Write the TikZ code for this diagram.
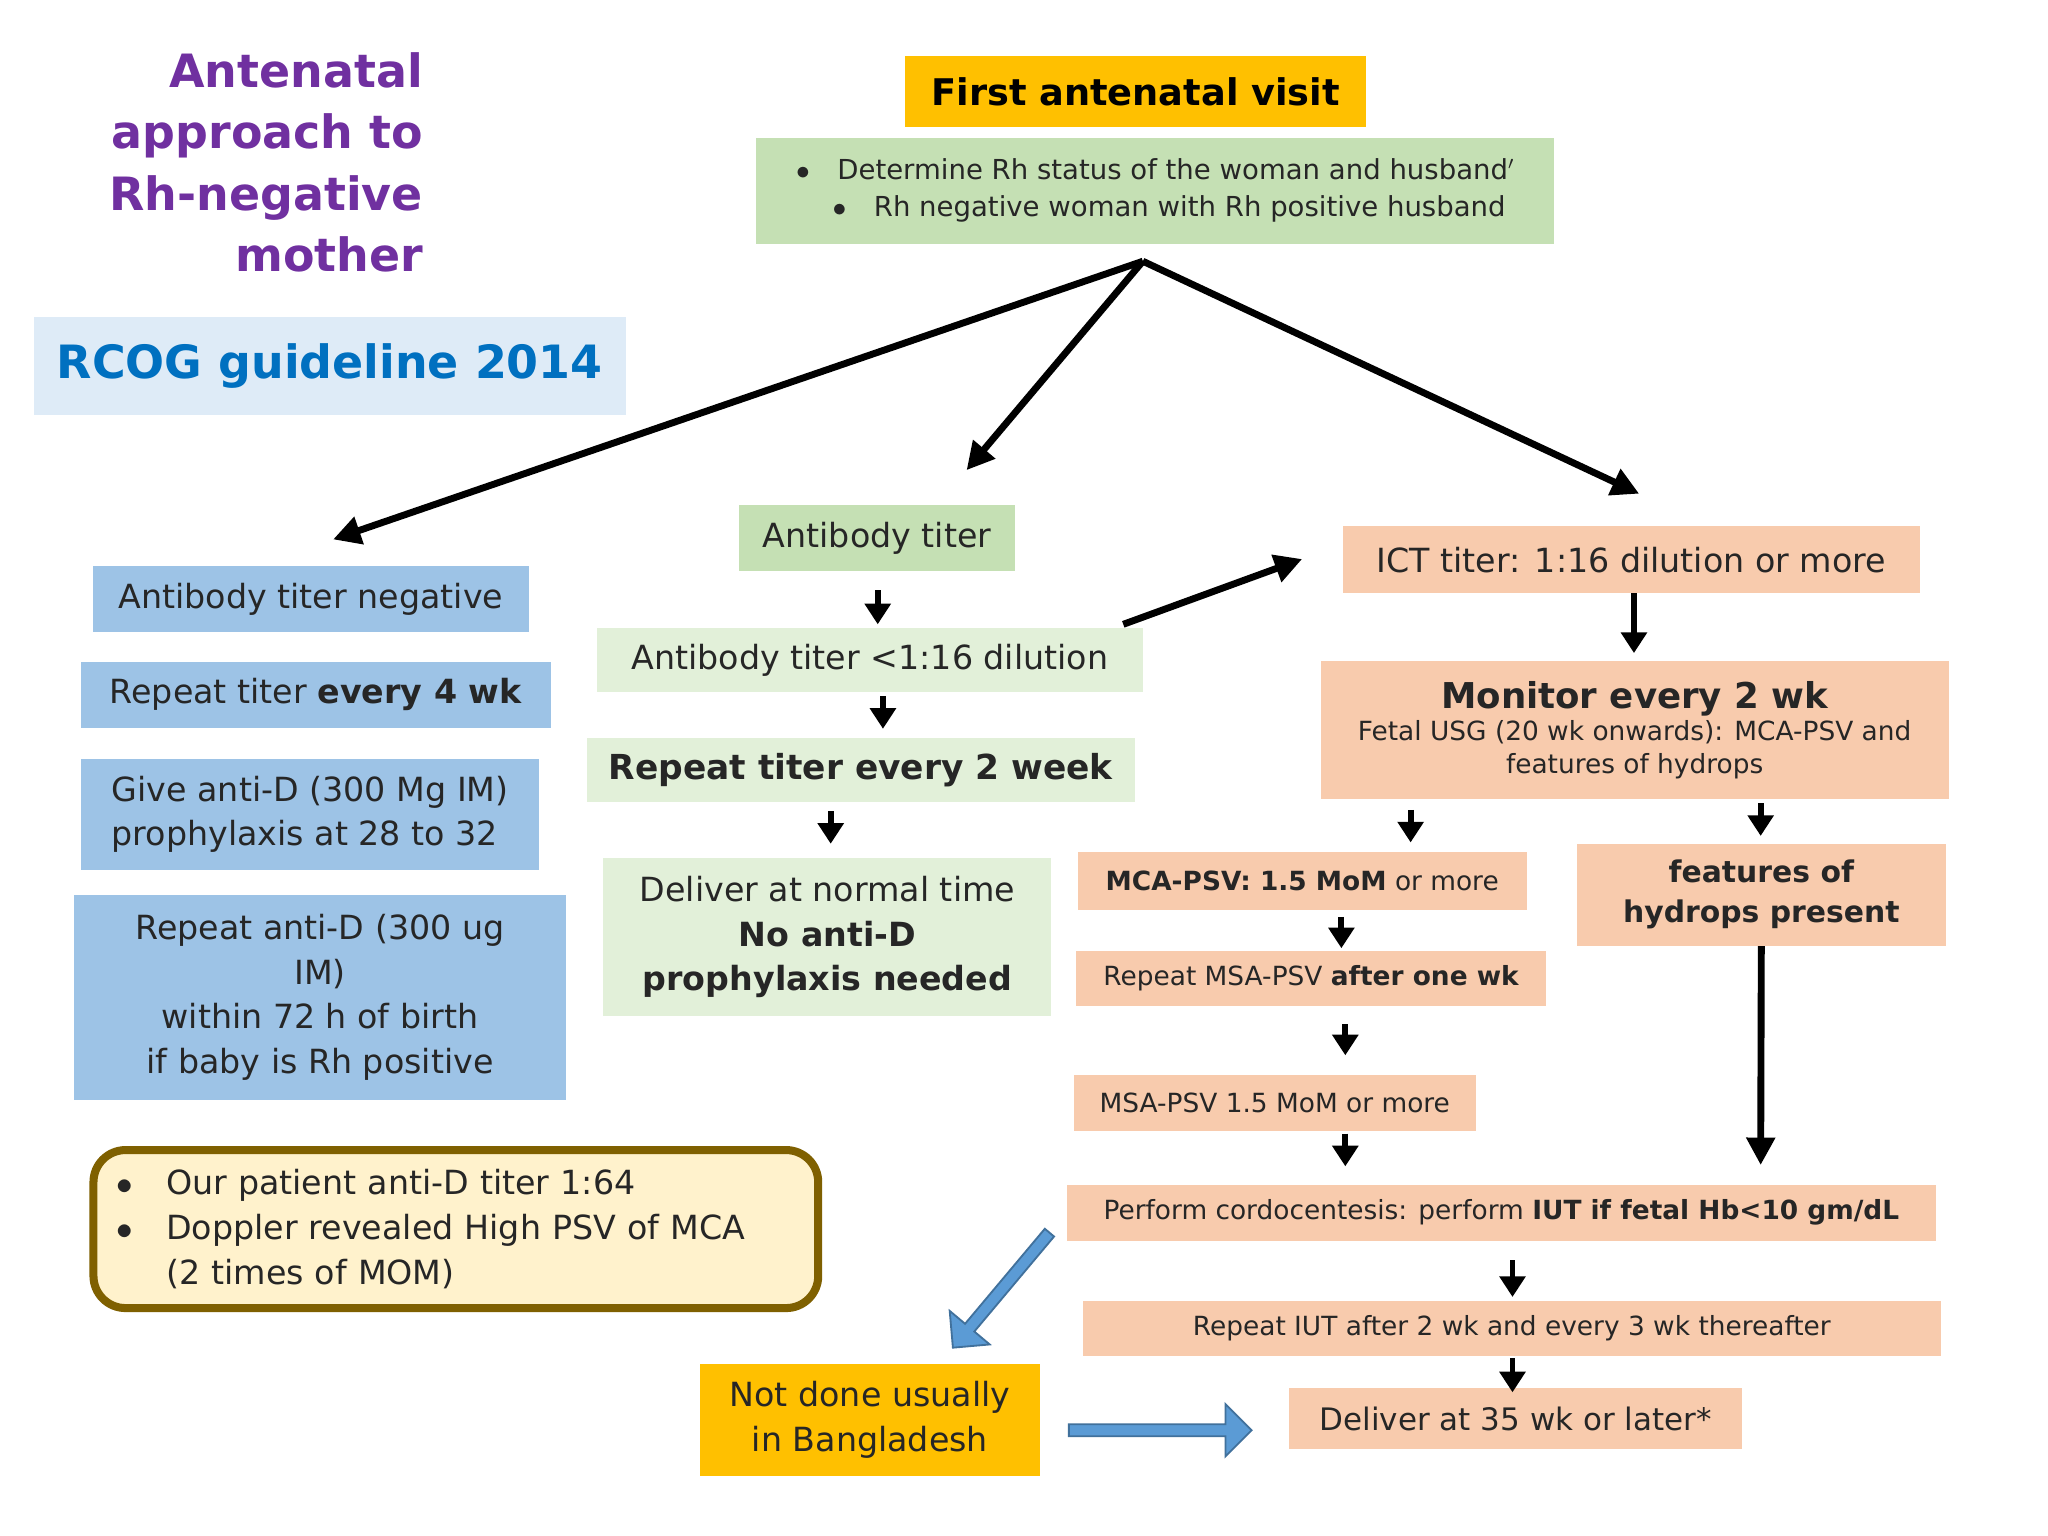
\documentclass[tikz,border=0pt]{standalone}
\usepackage{fontspec}
\setmainfont{DejaVu Sans}
\usetikzlibrary{arrows.meta,shapes.arrows}
\definecolor{purp}{RGB}{112,48,160}
\definecolor{rblue}{RGB}{0,112,192}
\definecolor{lblue}{RGB}{222,235,247}
\definecolor{gold}{RGB}{255,192,0}
\definecolor{grn}{RGB}{197,224,180}
\definecolor{lgrn}{RGB}{226,240,217}
\definecolor{mblue}{RGB}{157,195,230}
\definecolor{orng}{RGB}{248,203,173}
\definecolor{cream}{RGB}{255,242,204}
\definecolor{brn}{RGB}{127,96,0}
\definecolor{barr}{RGB}{91,155,213}
\definecolor{barrd}{RGB}{65,113,156}
\newcommand{\fz}[1]{\fontsize{#1}{1.22\dimexpr#1pt\relax}\selectfont}
\newcommand{\fzl}[1]{\fontsize{#1}{1.34\dimexpr#1pt\relax}\selectfont}
\begin{document}
\begin{tikzpicture}[x=0.02cm,y=-0.02cm,
 box/.style={draw=none,inner sep=2pt,align=center,text=black!85},
 arr/.style={line width=3pt,-{Triangle[length=12pt,width=12pt]}},
 sarr/.style={line width=2.6pt,-{Triangle[length=9pt,width=11pt]}},
 barrow/.style={single arrow,fill=barr,draw=barrd,line width=0.8pt,minimum height=#1,single arrow head extend=8pt,minimum width=0.8cm,inner sep=2pt}]
\useasboundingbox[fill=white] (0,0) rectangle (1568,1176);
\node[align=right,anchor=north east,text=purp,font=\bfseries\fzl{20}] (title) at (330,34) {Antenatal\\approach to\\Rh-negative\\mother};
\node[box,fill=lblue,minimum width=9.06cm,minimum height=1.5cm,text=rblue,font=\bfseries\fz{20}] (rcog) at (252.5,280.5) {RCOG guideline 2014};
\node[box,fill=gold,minimum width=7.06cm,minimum height=1.08cm,text=black,font=\bfseries\fz{16}] (first) at (869.5,70) {First antenatal visit};
\node[box,fill=grn,minimum width=12.22cm,minimum height=1.62cm,font=\fzl{12}] (green) at (884.5,146) {$\bullet$\quad Determine Rh status of the woman and husband$'$\\\quad$\bullet$\quad Rh negative woman with Rh positive husband};
\coordinate (top) at (875,200);
\node[box,fill=mblue,minimum width=6.68cm,minimum height=1.02cm,font=\fz{14.5}] (neg) at (238,458.5) {Antibody titer negative};
\node[box,fill=mblue,minimum width=7.2cm,minimum height=1.0cm,font=\fz{14.5}] (rep4) at (242,532) {Repeat titer \textbf{every 4 wk}};
\node[box,fill=mblue,minimum width=7.02cm,minimum height=1.7cm,font=\fzl{14.5},align=left] (give) at (237.5,623.5) {Give anti-D (300 Mg IM)\\prophylaxis at 28 to 32};
\node[box,fill=mblue,minimum width=7.52cm,minimum height=3.14cm,font=\fzl{14.5}] (repad) at (245,763.5) {Repeat anti-D (300 ug\\IM)\\within 72 h of birth\\if baby is Rh positive};
\node[box,fill=grn,minimum width=4.22cm,minimum height=1.0cm,font=\fz{14.5}] (abt) at (671.5,412) {Antibody titer};
\node[box,fill=lgrn,minimum width=8.36cm,minimum height=0.98cm,font=\fz{14.5}] (ablt) at (666,505.5) {Antibody titer <1:16 dilution};
\node[box,fill=lgrn,minimum width=8.4cm,minimum height=0.98cm,font=\bfseries\fz{15}] (rep2) at (659,589.5) {Repeat titer every 2 week};
\node[box,fill=lgrn,minimum width=6.86cm,minimum height=2.42cm,font=\fzl{14.5}] (deln) at (633.5,717.5) {Deliver at normal time\\\textbf{No anti-D}\\\textbf{prophylaxis needed}};
\node[box,fill=orng,minimum width=8.84cm,minimum height=1.02cm,font=\fz{14.5}] (ict) at (1249,428.5) {ICT titer: 1:16 dilution or more};
\node[box,fill=orng,minimum width=9.62cm,minimum height=2.12cm,font=\fz{11.5}] (mon) at (1251.5,559) {{\bfseries\fz{15.5}Monitor every 2 wk}\\Fetal USG (20 wk onwards): MCA-PSV and\\features of hydrops};
\node[box,fill=orng,minimum width=6.88cm,minimum height=0.9cm,font=\fz{11.5}] (mca) at (997,674.5) {\textbf{MCA-PSV: 1.5 MoM} or more};
\node[box,fill=orng,minimum width=5.66cm,minimum height=1.56cm,font=\bfseries\fzl{13}] (hyd) at (1348.5,685) {features of\\hydrops present};
\node[box,fill=orng,minimum width=7.2cm,minimum height=0.84cm,font=\fz{11.5}] (rmsa) at (1004,749) {Repeat MSA-PSV \textbf{after one wk}};
\node[box,fill=orng,minimum width=6.16cm,minimum height=0.86cm,font=\fz{11.5}] (msa) at (976,844.5) {MSA-PSV 1.5 MoM or more};
\node[box,fill=orng,minimum width=13.3cm,minimum height=0.86cm,font=\fz{11.5}] (cord) at (1149.5,928.5) {Perform cordocentesis: perform \textbf{IUT if fetal Hb<10 gm/dL}};
\node[box,fill=orng,minimum width=13.14cm,minimum height=0.84cm,font=\fz{11.5}] (riut) at (1157.5,1017) {Repeat IUT after 2 wk and every 3 wk thereafter};
\node[box,fill=orng,minimum width=6.94cm,minimum height=0.92cm,font=\fz{13.5}] (del35) at (1160.5,1086) {Deliver at 35 wk or later*};
\node[box,fill=gold,minimum width=5.2cm,minimum height=1.72cm,font=\fzl{14.5}] (notdone) at (666,1087) {Not done usually\\in Bangladesh};
\node[draw=brn,line width=3.5pt,rounded corners=14pt,fill=cream,minimum width=11.1cm,minimum height=2.42cm,align=left,font=\fzl{14.5},text=black!85,text width=10.4cm] (pat) at (349,941) {$\bullet$\quad Our patient anti-D titer 1:64\\$\bullet$\quad Doppler revealed High PSV of MCA\\\phantom{$\bullet$}\quad (2 times of MOM)};
% big arrows
\coordinate (negT) at (255,413);
\coordinate (abtT) at (740,360);
\coordinate (ictT) at (1255,378);
\draw[arr] (top) -- (negT);
\draw[arr] (top) -- (abtT);
\draw[arr] (top) -- (ictT);
\coordinate (ablR) at (860,478);
\coordinate (ictL) at (997,428);
\draw[arr] (ablR) -- (ictL);
% small arrows
\draw[sarr] (672,452) -- (672,478);
\draw[sarr] (676,533) -- (676,558);
\draw[sarr] (636,621) -- (636,646);
\draw[sarr] (ict.south -| 1251,0) -- (1251,500);
\draw[sarr] (1080,620) -- (1080,645);
\draw[sarr] (1348,615) -- (1348,640);
\draw[sarr] (1027,702) -- (1027,726);
\draw[sarr] (1030,784) -- (1030,808);
\draw[sarr] (1030,868) -- (1030,893);
\draw[arr] (hyd.south) -- (1348,892);
\draw[sarr] (1158,965) -- (1158,993);
\draw[sarr] (1158,1040) -- (1158,1066);
% block arrows
\node[barrow=2.3cm,rotate=230] (ba1) at (768,986) {};
\node[barrow=2.8cm] (ba2) at (886,1095) {};
\end{tikzpicture}
\end{document}
